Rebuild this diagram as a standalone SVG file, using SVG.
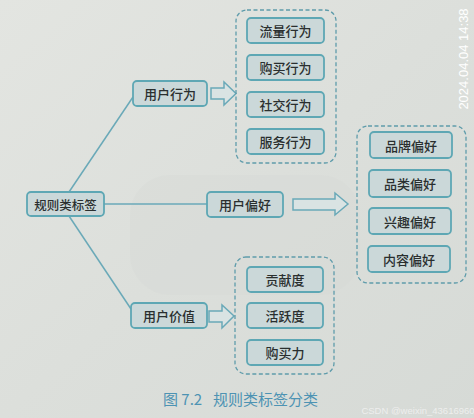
<svg xmlns="http://www.w3.org/2000/svg" width="474" height="418" viewBox="0 0 474 418">
<defs>
<linearGradient id="bg" x1="0" y1="0" x2="1" y2="1">
<stop offset="0" stop-color="#e3e5e1"/>
<stop offset="0.5" stop-color="#dcdfdb"/>
<stop offset="1" stop-color="#d6dad6"/>
</linearGradient>
</defs>
<style>
.box{fill:#cbd8d9;stroke:#5ea7b4;stroke-width:1.8}
.grp{fill:none;stroke:#5f9cab;stroke-width:1.3;stroke-dasharray:4 2.5}
.t{font-family:"Noto Sans CJK SC","Noto Sans",sans-serif;font-size:13px;fill:#2a2f2f;text-anchor:middle;dominant-baseline:central;font-weight:500}
.ln{fill:none;stroke:#6aa9b8;stroke-width:1.5}
.arr{fill:#d9e3e3;stroke:#6aa9b8;stroke-width:1.5;stroke-linejoin:miter}
.cap{font-family:"Noto Sans CJK SC","Noto Sans",sans-serif;font-size:15px;fill:#4d93b3;dominant-baseline:central}
</style>
<rect width="474" height="418" fill="url(#bg)"/>
<rect x="130" y="175" width="230" height="120" rx="40" fill="#d3d7d3" opacity="0.3"/>

<g id="connectors">
<path class="ln" d="M69 192 L133 97"/>
<path class="ln" d="M69 216 L131 309"/>
<path class="ln" d="M104 204 L207 204"/>
<path class="arr" d="M211 88 L224 88 L224 82 L236 93.5 L224 105 L224 99 L211 99 Z"/>
<path class="arr" d="M293 199 L335 199 L335 193 L348 204 L335 215 L335 210 L293 210 Z"/>
<path class="arr" d="M209 311 L222 311 L222 305 L234 316 L222 328 L222 322 L209 322 Z"/>
</g>

<g id="group-behavior"><rect class="grp" x="236" y="10" width="100" height="153" rx="11"/></g>
<g id="group-preference"><rect class="grp" x="357" y="126" width="109" height="157" rx="11"/></g>
<g id="group-value"><rect class="grp" x="235" y="257" width="99" height="117" rx="11"/></g>

<g id="root"><rect class="box" x="27" y="192" width="77" height="24" rx="4"/><text class="t" x="65.5" y="204" style="font-size:12.5px">规则类标签</text></g>

<g id="behavior"><rect class="box" x="133" y="81" width="74" height="25" rx="4"/><text class="t" x="170" y="93.5">用户行为</text></g>
<g id="preference"><rect class="box" x="207" y="192" width="76" height="25" rx="4"/><text class="t" x="245" y="204.5">用户偏好</text></g>
<g id="value"><rect class="box" x="131" y="303" width="76" height="25" rx="4"/><text class="t" x="169" y="315.5">用户价值</text></g>

<g id="b1"><rect class="box" x="247" y="18" width="77" height="25" rx="4"/><text class="t" x="285.5" y="30.5">流量行为</text></g>
<g id="b2"><rect class="box" x="247" y="55" width="77" height="25" rx="4"/><text class="t" x="285.5" y="67.5">购买行为</text></g>
<g id="b3"><rect class="box" x="247" y="92" width="77" height="25" rx="4"/><text class="t" x="285.5" y="104.5">社交行为</text></g>
<g id="b4"><rect class="box" x="247" y="129" width="77" height="25" rx="4"/><text class="t" x="285.5" y="141.5">服务行为</text></g>

<g id="p1"><rect class="box" x="370" y="132" width="82" height="26" rx="4"/><text class="t" x="411" y="145">品牌偏好</text></g>
<g id="p2"><rect class="box" x="369" y="170" width="82" height="27" rx="4"/><text class="t" x="410" y="183.5">品类偏好</text></g>
<g id="p3"><rect class="box" x="369" y="208" width="82" height="26" rx="4"/><text class="t" x="410" y="221">兴趣偏好</text></g>
<g id="p4"><rect class="box" x="368" y="246" width="82" height="26" rx="4"/><text class="t" x="409" y="259">内容偏好</text></g>

<g id="v1"><rect class="box" x="247" y="267" width="76" height="25" rx="4"/><text class="t" x="285" y="279.5">贡献度</text></g>
<g id="v2"><rect class="box" x="247" y="303" width="76" height="25" rx="4"/><text class="t" x="285" y="315.5">活跃度</text></g>
<g id="v3"><rect class="box" x="247" y="340" width="76" height="25" rx="4"/><text class="t" x="285" y="352.5">购买力</text></g>

<text class="cap" x="163" y="398">图 7.2</text>
<text class="cap" x="213" y="398">规则类标签分类</text>

<text transform="translate(463 59) rotate(-90)" style="font-family:'Liberation Sans',Arial,sans-serif;font-size:13px;fill:#ffffff;text-anchor:middle;dominant-baseline:central">2024.04.04 14:38</text>
<text x="418" y="410" style="font-family:'Liberation Sans',Arial,sans-serif;font-size:9.5px;fill:#f4f4f4;opacity:0.8;text-anchor:middle;dominant-baseline:central">CSDN @weixin_43616960</text>
</svg>
